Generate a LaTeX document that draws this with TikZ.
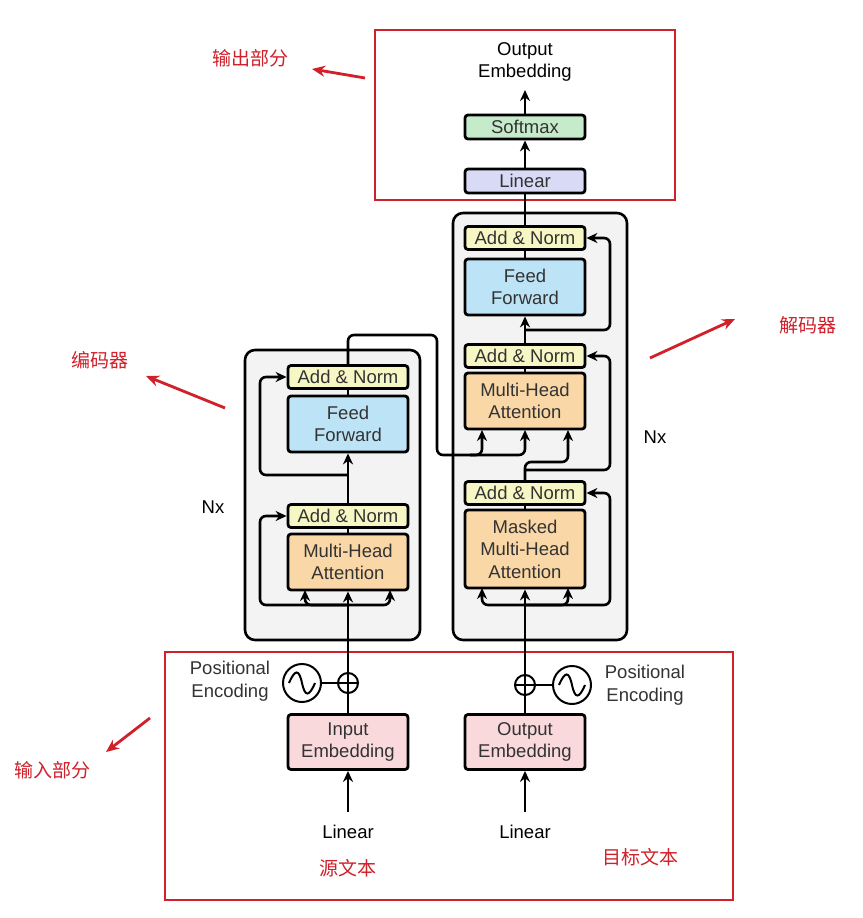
\documentclass[tikz,border=0pt]{standalone}
\usepackage{fontspec}
\setmainfont{Liberation Sans}
\newfontfamily\cjk{Noto Sans CJK SC}
\usetikzlibrary{arrows.meta}
\definecolor{redl}{HTML}{D0202A}
\definecolor{anfill}{HTML}{F6F7C4}
\definecolor{fffill}{HTML}{BDE3F7}
\definecolor{mhfill}{HTML}{FAD7A6}
\definecolor{embfill}{HTML}{F9D9DC}
\definecolor{smfill}{HTML}{C6EBCB}
\definecolor{linfill}{HTML}{D9DAF5}
\definecolor{boxgray}{HTML}{F3F3F3}
\begin{document}
\begin{tikzpicture}[x=1pt,y=-1pt,font=\fontsize{18.5}{22.5}\selectfont,
  blk/.style={draw=black,line width=2.8pt,rounded corners=3pt,minimum width=120pt,align=center,inner sep=0pt,text=black!80},
  an/.style={blk,fill=anfill,minimum height=23pt},
  ff/.style={blk,fill=fffill,minimum height=56pt},
  mh/.style={blk,fill=mhfill,minimum height=56pt},
  emb/.style={blk,fill=embfill,minimum height=55pt},
  outer/.style={draw=black,line width=2.6pt,rounded corners=10pt,fill=boxgray},
  part/.style={draw=redl,line width=1.8pt},
  ln/.style={line width=2.6pt,rounded corners=6pt},
  ar/.style={ln,-{Stealth[length=11pt,width=10pt]}},
  red arrow/.style={draw=redl,line width=2.8pt,-{Stealth[length=13pt,width=11pt]}},
  cn/.style={text=redl,font=\cjk\fontsize{19}{22}\selectfont}]
\useasboundingbox (0,0) rectangle (862,918);
\fill[white] (0,0) rectangle (862,918);

% red frames
\draw[part] (375,30) rectangle (675,200);
\draw[part] (165,652) rectangle (733,900);

% outer boxes
\draw[outer] (245,350) rectangle (420,640);
\draw[outer] (453,213) rectangle (627,640);

% output part
\node (outtxt) at (525,62) [align=center] {Output\\Embedding};
\node[blk,fill=smfill,minimum height=24pt] (soft) at (525,127) {Softmax};
\node[blk,fill=linfill,minimum height=24pt] (lin) at (525,181) {Linear};

% decoder
\node[an] (dan3) at (525,238) {Add \& Norm};
\node[ff] (dff) at (525,287) {Feed\\Forward};
\node[an] (dan2) at (525,356) {Add \& Norm};
\node[mh] (dmh) at (525,401) {Multi-Head\\Attention};
\node[an] (dan1) at (525,493) {Add \& Norm};
\node[blk,fill=mhfill,minimum height=78pt] (dmm) at (525,549) {Masked\\Multi-Head\\Attention};
\node (dnx) at (655,437) {Nx};

% encoder
\node[an] (ean2) at (348,377) {Add \& Norm};
\node[ff] (eff) at (348,424) {Feed\\Forward};
\node[an] (ean1) at (348,516) {Add \& Norm};
\node[mh] (emh) at (348,562) {Multi-Head\\Attention};
\node (enx) at (213,507) {Nx};

% input part
\node[emb] (iemb) at (348,742) {Input\\Embedding};
\node[emb] (oemb) at (525,742) {Output\\Embedding};
\node[circle,draw,line width=2pt,minimum size=20pt,inner sep=0pt] (eplus) at (348,683) {};
\draw[line width=2pt] (eplus.north)--(eplus.south) (eplus.west)--(eplus.east);
\node[circle,draw,line width=2pt,minimum size=20pt,inner sep=0pt] (dplus) at (525,685) {};
\draw[line width=2pt] (dplus.north)--(dplus.south) (dplus.west)--(dplus.east);
\node[circle,draw,line width=2pt,minimum size=38pt,inner sep=0pt] (esin) at (302,683) {};
\draw[line width=2pt] (289,683) .. controls (295,669) and (299,669) .. (302,683) .. controls (305,697) and (309,697) .. (315,683);
\node[circle,draw,line width=2pt,minimum size=38pt,inner sep=0pt] (dsin) at (572,685) {};
\draw[line width=2pt] (559,685) .. controls (565,671) and (569,671) .. (572,685) .. controls (575,699) and (579,699) .. (585,685);
\draw[line width=2pt] (esin)--(eplus) (dplus)--(dsin);
\node[text=black!80] (epe) at (230,681) [align=center] {Positional\\Encoding};
\node[text=black!80] (dpe) at (645,685) [align=center] {Positional\\Encoding};
\node (elin) at (348,832) {Linear};
\node (dlin) at (525,832) {Linear};
\node[cn] (src) at (348,868) {源文本};
\node[cn] (tgt) at (640,857) {目标文本};

% inputs
\draw[ar] (348,812)--(iemb);
\draw[ar] (525,812)--(oemb);
\draw[ln] (iemb)--(eplus);
\draw[ln] (oemb)--(dplus);

% encoder flow
\coordinate (eb) at (348,605);
\draw[ar] (eplus.north)--(emh.south);
\draw[ar] (eb) -| (305,590);
\draw[ar] (eb) -| (390,590);
\draw[ar] (eb) -| (260,516) -- (ean1.west);
\draw[ln] (emh)--(ean1);
\draw[ar] (ean1.north)--(eff.south);
\coordinate (em) at (348,475);
\draw[ar] (em) -| (260,377) -- (ean2.west);
\draw[ln] (eff)--(ean2);
% encoder output to decoder
\draw[ar] (ean2.north) |- (437,335) |- (525,455) -- (525,430);
\draw[ar] (470,455) -| (482,430);

% decoder flow
\coordinate (db) at (525,605);
\draw[ar] (dplus.north)--(dmm.south);
\draw[ar] (db) -| (482,588);
\draw[ar] (db) -| (568,588);
\draw[ar] (db) -| (610,493) -- (dan1.east);
\draw[ln] (dmm)--(dan1);
\draw[ar] (dan1.north) |- (568,462) -- (568,430);
\draw[ar] (525,470) -| (610,356) -- (dan2.east);
\draw[ln] (dmh)--(dan2);
\draw[ar] (dan2.north)--(dff.south);
\draw[ar] (525,330) -| (610,238) -- (dan3.east);
\draw[ln] (dff)--(dan3);
\draw[ln] (dan3)--(lin);
\draw[ar] (lin)--(soft);
\draw[ar] (soft)--(525,90);

% annotations
\node[cn] (l1) at (250,58) {输出部分};
\coordinate (a1) at (365,78);
\draw[red arrow] (a1)--(312,69);
\node[cn] (l2) at (100,360) {编码器};
\coordinate (a2) at (225,408);
\draw[red arrow] (a2)--(146,376);
\node[cn] (l3) at (808,325) {解码器};
\coordinate (a3) at (650,358);
\draw[red arrow] (a3)--(735,319);
\node[cn] (l4) at (52,770) {输入部分};
\coordinate (a4) at (150,718);
\draw[red arrow] (a4)--(106,752);
\end{tikzpicture}
\end{document}
